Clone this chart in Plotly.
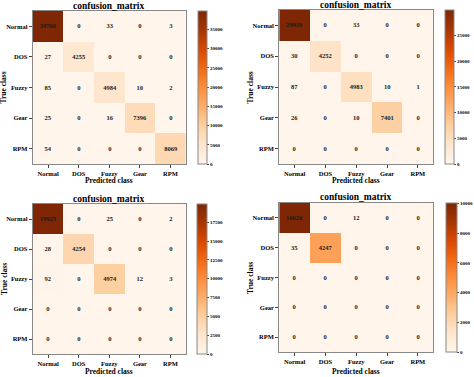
import plotly.graph_objects as go

classes = ["Normal", "DOS", "Fuzzy", "Gear", "RPM"]

cm1 = [[39766, 0, 33, 0, 3],
       [27, 4255, 0, 0, 0],
       [85, 0, 4984, 10, 2],
       [25, 0, 16, 7396, 0],
       [54, 0, 0, 0, 8069]]
cm2 = [[29930, 0, 33, 0, 0],
       [30, 4252, 0, 0, 0],
       [87, 0, 4983, 10, 1],
       [26, 0, 10, 7401, 0],
       [0, 0, 0, 0, 0]]
cm3 = [[19925, 0, 25, 0, 2],
       [28, 4254, 0, 0, 0],
       [92, 0, 4974, 12, 3],
       [0, 0, 0, 0, 0],
       [0, 0, 0, 0, 0]]
cm4 = [[10026, 0, 12, 0, 0],
       [35, 4247, 0, 0, 0],
       [0, 0, 0, 0, 0],
       [0, 0, 0, 0, 0],
       [0, 0, 0, 0, 0]]
matrices = [cm1, cm2, cm3, cm4]
cbar_dticks = [5000, 5000, 2500, 2000]
title_text = "confusion_matrix"
xlabel = "Predicted class"
ylabel = "True class"

W, H = 474, 377
FONT = "Liberation Serif"

# pixel boxes: (x0, x1, y0, y1) of heatmap; colorbar (x0, x1)
boxes = [(33, 187, 11, 164), (281, 436, 10, 164), (33, 187, 204, 354), (281, 436, 203, 352)]
cbars = [(199, 208), (448, 457), (198, 208), (449, 460)]
title_y = [6, 5, 199, 197]
xlabel_y = [181, 181, 371, 371]

def fx(p):
    return p / W

def fy(p):
    return 1 - p / H

fig = go.Figure()
annotations = []
for i, (cm, dt) in enumerate(zip(matrices, cbar_dticks)):
    x0, x1, y0, y1 = boxes[i]
    c0, c1 = cbars[i]
    xa = "x" if i == 0 else f"x{i+1}"
    ya = "y" if i == 0 else f"y{i+1}"
    zmax = max(max(r) for r in cm)
    fig.add_trace(go.Heatmap(
        z=cm, x=classes, y=classes, xaxis=xa, yaxis=ya,
        colorscale="Oranges", zmin=0, zmax=zmax,
        texttemplate="<b>%{z:d}</b>",
        textfont=dict(family=FONT, size=6.5, color="#1a1a1a"),
        xgap=0, ygap=0,
        colorbar=dict(
            x=fx(c0), xanchor="left", xpad=0,
            y=fy(y1), yanchor="bottom", ypad=0,
            len=(y1 - y0) / H, lenmode="fraction",
            thickness=c1 - c0, thicknessmode="pixels",
            outlinecolor="#888888", outlinewidth=1,
            tick0=0, dtick=dt, tickformat="d", ticks="outside", ticklen=2,
            tickcolor="#444444",
            tickfont=dict(family=FONT, size=5, color="black", weight="bold"),
        ),
        hoverinfo="skip",
    ))
    axis_common = dict(
        showline=True, mirror=True, linecolor="#888888", linewidth=1,
        ticks="outside", ticklen=3, tickcolor="#444444",
        tickfont=dict(family=FONT, size=6.5, color="black", weight="bold"),
        showgrid=False, zeroline=False, fixedrange=True,
    )
    fig.layout[f"xaxis{'' if i == 0 else i+1}"] = dict(
        domain=[fx(x0), fx(x1)], anchor=ya, **axis_common)
    fig.layout[f"yaxis{'' if i == 0 else i+1}"] = dict(
        domain=[fy(y1), fy(y0)], anchor=xa, autorange="reversed", **axis_common)
    cx = (x0 + x1) / 2
    annotations.append(dict(
        text="<b>" + title_text + "</b>", x=fx(cx), y=fy(title_y[i]),
        xref="paper", yref="paper", xanchor="center", yanchor="middle",
        showarrow=False, font=dict(family=FONT, size=9.5, color="black")))
    annotations.append(dict(
        text="<b>" + xlabel + "</b>", x=fx(cx), y=fy(xlabel_y[i]),
        xref="paper", yref="paper", xanchor="center", yanchor="middle",
        showarrow=False, font=dict(family=FONT, size=7.5, color="black")))
    annotations.append(dict(
        text="<b>" + ylabel + "</b>", x=fx(x0 - 29), y=fy((y0 + y1) / 2),
        xref="paper", yref="paper", xanchor="center", yanchor="middle",
        textangle=-90,
        showarrow=False, font=dict(family=FONT, size=7.5, color="black")))

fig.update_layout(
    width=W, height=H,
    margin=dict(l=0, r=0, t=0, b=0),
    paper_bgcolor="white", plot_bgcolor="white",
    annotations=annotations,
    showlegend=False,
)
fig.write_html("out.html", config={"displayModeBar": False},
               post_script="document.body.style.margin='0';document.body.style.overflow='hidden';")
